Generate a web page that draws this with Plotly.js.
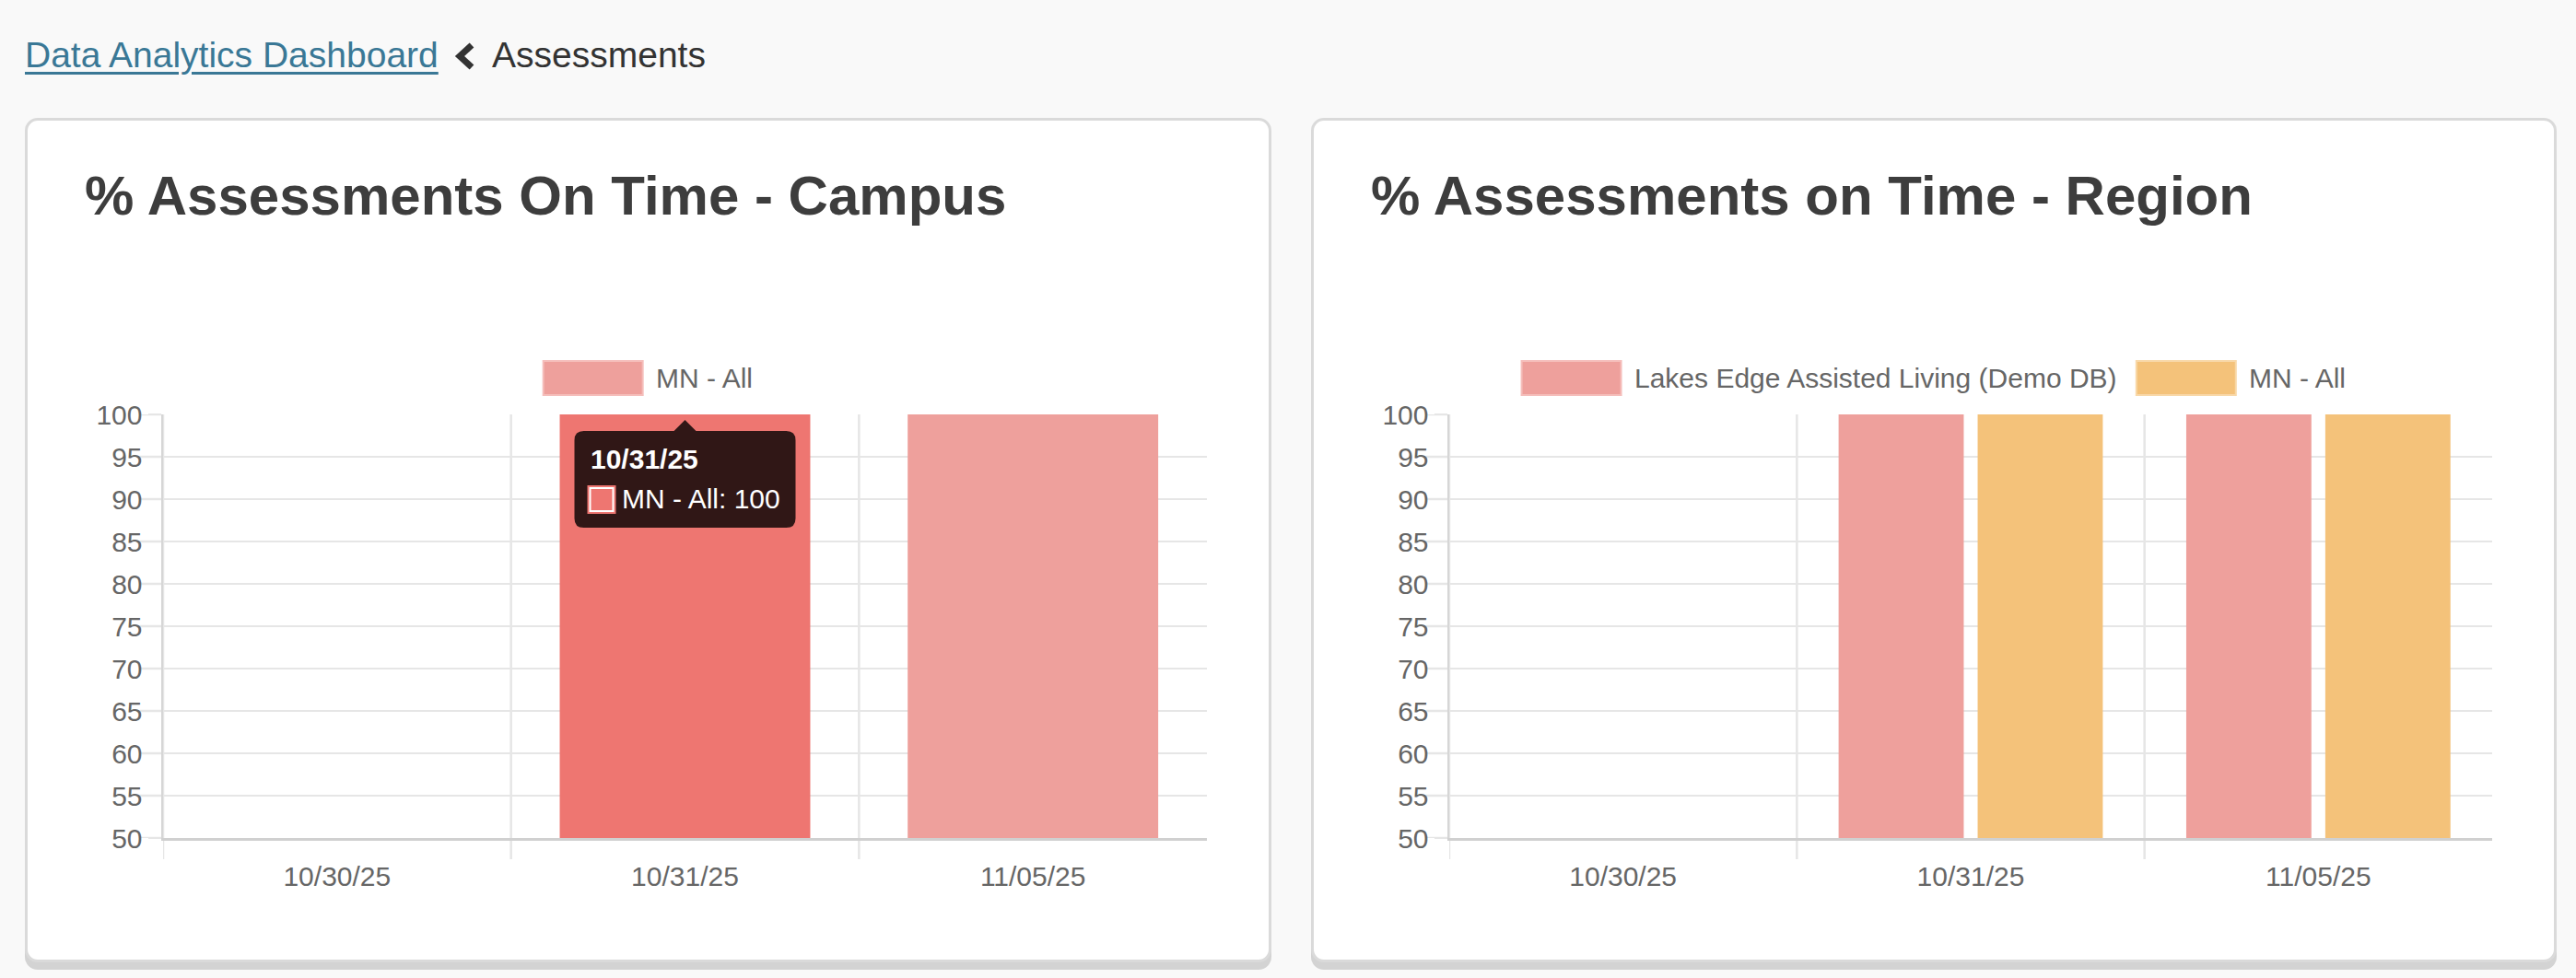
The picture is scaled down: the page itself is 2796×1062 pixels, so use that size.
<!DOCTYPE html>
<html>
<head>
<meta charset="utf-8">
<script src="https://cdn.plot.ly/plotly-3.0.1.min.js"></script>
<style>
html, body { margin:0; padding:0; background:#f9f9f9; width:2796px; height:1062px; overflow:hidden; font-family:"Liberation Sans", Arial, sans-serif; }
.crumb { position:absolute; top:37px; font-size:39px; line-height:46px; color:#333; white-space:nowrap; }
.crumb a { color:#3a7896; text-decoration:underline; text-decoration-thickness:3px; text-underline-offset:5px; }
.chev { position:absolute; left:492px; top:46px; }
.card { position:absolute; top:128px; height:917px; box-sizing:border-box; background:#fff; border:3px solid #dadada; border-radius:14px; box-shadow:0 8px 0 #d3d3d3; }
.plot { position:absolute; top:128px; height:917px; }
</style>
</head>
<body>
<div class="crumb" style="left:27px;"><a>Data Analytics Dashboard</a></div>
<svg class="chev" width="26" height="30" viewBox="0 0 26 30"><polyline points="20,3 7,15 20,27" fill="none" stroke="#333" stroke-width="7" stroke-linejoin="miter"/></svg>
<div class="crumb" style="left:534px;">Assessments</div>

<div class="card" style="left:27px; width:1353px;"></div>
<div class="card" style="left:1423px; width:1352px;"></div>
<div id="campus" class="plot" style="left:27px; width:1353px;"></div>
<div id="region" class="plot" style="left:1423px; width:1352px;"></div>

<script>
// ---------- data ----------
const categories = ['10/30/25', '10/31/25', '11/05/25'];
const yTickVals = [50, 55, 60, 65, 70, 75, 80, 85, 90, 95, 100];

const campusTitle = '% Assessments On Time - Campus';
const campusSeriesName = 'MN - All';
const campusValues = [null, 100, 100];

const regionTitle = '% Assessments on Time - Region';
const regionSeriesNames = ['Lakes Edge Assisted Living (Demo DB)', 'MN - All'];
const regionLakesValues = [null, 100, 100];
const regionMNValues = [null, 100, 100];

const hoveredIndex = 1; // tooltip shown on 10/31/25 in campus chart

// ---------- styles ----------
const PINK = '#eea09c', PINK_HOVER = '#ee7671', PINK_BORDER = '#f5bebb';
const ORANGE = '#f4c27a', ORANGE_BORDER = '#f8d8a8';
const GRID = '#e6e6e6';
const FONT = '"Liberation Sans", Arial, sans-serif';
const H = 917, M = { l: 150, r: 70, t: 322, b: 135 };
const PLOT_H = H - M.t - M.b;

const measure = (() => {
  const ctx = document.createElement('canvas').getContext('2d');
  ctx.font = '30px "Liberation Sans"';
  return t => ctx.measureText(t).width;
})();

function legendParts(W, items) {
  const plotW = W - M.l - M.r;
  const px2x = p => (p - M.l) / plotW;
  const px2y = p => 1 - (p - M.t) / PLOT_H;
  const boxW = 108, boxH = 37, gap = 13, itemGap = 21, top = 264;
  let total = 0;
  items.forEach((it, i) => { total += boxW + gap + measure(it.name) + (i ? itemGap : 0); });
  let x = (W - total) / 2;
  const shapes = [], anns = [];
  items.forEach(it => {
    shapes.push({ type: 'rect', xref: 'paper', yref: 'paper', x0: px2x(x), x1: px2x(x + boxW),
      y0: px2y(top + boxH), y1: px2y(top), fillcolor: it.color, line: { color: it.border, width: 2 } });
    anns.push({ xref: 'paper', yref: 'paper', x: px2x(x + boxW + gap), y: px2y(top + boxH / 2),
      xanchor: 'left', yanchor: 'middle', showarrow: false, text: it.name,
      font: { family: FONT, size: 30, color: '#666' }, borderpad: 0 });
    x += boxW + gap + measure(it.name) + itemGap;
  });
  return { shapes, anns };
}

// Chart.js style grid extensions: vertical category-boundary lines reaching below the axis,
// and horizontal tick marks reaching left of the y axis up to the labels
function gridExtras(W) {
  const plotW = W - M.l - M.r;
  const vert = categories.map((c, i) => ({
    type: 'line', xref: 'x', yref: 'paper', x0: i - 0.5, x1: i - 0.5,
    y0: -23 / PLOT_H, y1: 1, line: { color: GRID, width: 2.5 }, layer: 'below'
  }));
  const horiz = yTickVals.map(v => ({
    type: 'line', xref: 'paper', yref: 'y', x0: -25 / plotW, x1: 0, y0: v, y1: v,
    line: { color: GRID, width: 2.5 }, layer: 'below'
  }));
  return vert.concat(horiz);
}

function baseLayout(W, title, legendItems) {
  const lg = legendParts(W, legendItems);
  const tickStyle = { family: FONT, size: 30, color: '#666' };
  return {
    width: W, height: H,
    margin: M,
    paper_bgcolor: 'rgba(0,0,0,0)', plot_bgcolor: '#fff',
    showlegend: false,
    barmode: 'group', bargap: 0.2, bargroupgap: 0.1,
    title: { text: '<b>' + title + '</b>', xref: 'container', yref: 'container',
      x: 65 / W, xanchor: 'left', y: 1 - 84 / H, yanchor: 'middle',
      font: { family: FONT, size: 60, color: '#3d3d3d' } },
    xaxis: { type: 'category', categoryorder: 'array', categoryarray: categories,
      range: [-0.5, categories.length - 0.5],
      ticks: '', showgrid: false, ticklabelstandoff: 13,
      showline: true, linecolor: '#d0d0d0', linewidth: 3,
      tickfont: tickStyle, fixedrange: true },
    yaxis: { range: [50, 100], tickvals: yTickVals, ticktext: yTickVals.map(String),
      ticks: 'outside', ticklen: 14, tickwidth: 2.5, tickcolor: GRID,
      showgrid: true, gridcolor: GRID, gridwidth: 2.5, zeroline: false,
      showline: true, linecolor: '#d6d6d6', linewidth: 2.5,
      tickfont: tickStyle, fixedrange: true },
    shapes: gridExtras(W).concat(lg.shapes),
    annotations: lg.anns
  };
}

const config = { staticPlot: true, displayModeBar: false };

// ---------- campus chart ----------
const campusColors = categories.map((c, i) => i === hoveredIndex ? PINK_HOVER : PINK);
const campusLayout = baseLayout(1353, campusTitle, [{ name: campusSeriesName, color: PINK, border: PINK_BORDER }]);

// tooltip (Chart.js style) anchored at the hovered bar top, pixel offsets
const tipX = categories[hoveredIndex], tipY = campusValues[hoveredIndex];
const pixShape = (path, fill, line) => ({ type: 'path', xref: 'x', yref: 'y', xsizemode: 'pixel', ysizemode: 'pixel',
  xanchor: tipX, yanchor: tipY, path: path, fillcolor: fill, line: line || { width: 0 }, layer: 'above' });
campusLayout.shapes.push(pixShape(
  'M -110,-18 L -12,-18 L 0,-6 L 12,-18 L 110,-18 Q 120,-18 120,-28 L 120,-113 Q 120,-123 110,-123 ' +
  'L -110,-123 Q -120,-123 -120,-113 L -120,-28 Q -120,-18 -110,-18 Z', 'rgba(0,0,0,0.8)'));
campusLayout.shapes.push(pixShape('M -106,-77 L -75,-77 L -75,-108 L -106,-108 Z', PINK_HOVER));
campusLayout.shapes.push(pixShape('M -103,-80 L -78,-80 L -78,-105 L -103,-105 Z', PINK_HOVER, { color: '#fff', width: 2 }));
campusLayout.annotations.push({ xref: 'x', yref: 'y', x: tipX, y: tipY, xanchor: 'left', yanchor: 'middle',
  xshift: -104, yshift: -48, showarrow: false, borderpad: 0, text: '<b>' + tipX + '</b>',
  font: { family: FONT, size: 30, color: '#fff' } });
campusLayout.annotations.push({ xref: 'x', yref: 'y', x: tipX, y: tipY, xanchor: 'left', yanchor: 'middle',
  xshift: -70, yshift: -91, showarrow: false, borderpad: 0, text: campusSeriesName + ': ' + tipY,
  font: { family: FONT, size: 30, color: '#fff' } });

Plotly.newPlot('campus', [{
  type: 'bar', name: campusSeriesName, x: categories, y: campusValues,
  marker: { color: campusColors, line: { width: 0 } }, hoverinfo: 'skip'
}], campusLayout, config);

// ---------- region chart ----------
const regionLayout = baseLayout(1352, regionTitle, [
  { name: regionSeriesNames[0], color: PINK, border: PINK_BORDER },
  { name: regionSeriesNames[1], color: ORANGE, border: ORANGE_BORDER }
]);
Plotly.newPlot('region', [
  { type: 'bar', name: regionSeriesNames[0], x: categories, y: regionLakesValues,
    marker: { color: PINK, line: { width: 0 } }, hoverinfo: 'skip' },
  { type: 'bar', name: regionSeriesNames[1], x: categories, y: regionMNValues,
    marker: { color: ORANGE, line: { width: 0 } }, hoverinfo: 'skip' }
], regionLayout, config);
</script>
</body>
</html>
